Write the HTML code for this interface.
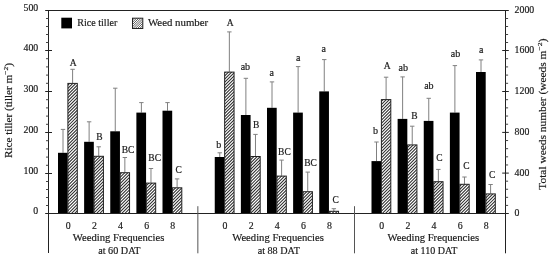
<!DOCTYPE html>
<html><head><meta charset="utf-8"><title>Chart</title>
<style>
html,body{margin:0;padding:0;background:#fff;}
svg{display:block;}
text{font-family:"Liberation Serif","DejaVu Serif",serif;fill:#1a1a1a;stroke:#1a1a1a;stroke-width:0.18px;}
</style></head>
<body>

<svg width="550" height="256" viewBox="0 0 550 256">
<rect width="550" height="256" fill="#fff"/>
<g stroke="#808080" stroke-width="1" fill="none"><path d="M63.00 152.80V129.40M60.80 129.40H65.20"/><path d="M72.60 83.10V69.30M70.40 69.30H74.80"/><path d="M89.12 141.80V121.80M86.92 121.80H91.33"/><path d="M98.72 156.00V146.80M96.53 146.80H100.92"/><path d="M115.25 131.30V88.20M113.05 88.20H117.45"/><path d="M124.85 172.40V157.50M122.65 157.50H127.05"/><path d="M141.38 112.60V102.60M139.18 102.60H143.57"/><path d="M150.97 182.80V168.50M148.78 168.50H153.18"/><path d="M167.50 110.70V102.60M165.30 102.60H169.70"/><path d="M177.10 187.50V178.90M174.90 178.90H179.30"/><path d="M219.75 157.00V152.80M217.55 152.80H221.95"/><path d="M229.35 71.80V31.90M227.15 31.90H231.55"/><path d="M245.88 115.00V78.30M243.68 78.30H248.07"/><path d="M255.47 156.20V134.40M253.28 134.40H257.68"/><path d="M272.00 107.80V81.90M269.80 81.90H274.20"/><path d="M281.60 175.80V160.10M279.40 160.10H283.80"/><path d="M298.12 112.60V66.60M295.93 66.60H300.32"/><path d="M307.73 191.40V172.10M305.52 172.10H309.93"/><path d="M324.25 91.40V59.60M322.05 59.60H326.45"/><path d="M333.85 211.00V208.70M331.65 208.70H336.05"/><path d="M376.50 161.10V142.00M374.30 142.00H378.70"/><path d="M386.10 99.30V77.20M383.90 77.20H388.30"/><path d="M402.62 118.90V76.90M400.43 76.90H404.82"/><path d="M412.23 144.60V126.20M410.02 126.20H414.43"/><path d="M428.75 120.90V98.30M426.55 98.30H430.95"/><path d="M438.35 181.40V169.40M436.15 169.40H440.55"/><path d="M454.88 112.60V65.60M452.68 65.60H457.07"/><path d="M464.48 184.00V177.00M462.27 177.00H466.68"/><path d="M481.00 72.00V59.90M478.80 59.90H483.20"/><path d="M490.60 193.60V184.50M488.40 184.50H492.80"/></g>
<g><rect x="58.00" y="152.80" width="9.70" height="60.70" fill="#000"/><rect x="84.12" y="141.80" width="9.70" height="71.70" fill="#000"/><rect x="110.25" y="131.30" width="9.70" height="82.20" fill="#000"/><rect x="136.38" y="112.60" width="9.70" height="100.90" fill="#000"/><rect x="162.50" y="110.70" width="9.70" height="102.80" fill="#000"/><rect x="214.75" y="157.00" width="9.70" height="56.50" fill="#000"/><rect x="240.88" y="115.00" width="9.70" height="98.50" fill="#000"/><rect x="267.00" y="107.80" width="9.70" height="105.70" fill="#000"/><rect x="293.12" y="112.60" width="9.70" height="100.90" fill="#000"/><rect x="319.25" y="91.40" width="9.70" height="122.10" fill="#000"/><rect x="371.50" y="161.10" width="9.70" height="52.40" fill="#000"/><rect x="397.62" y="118.90" width="9.70" height="94.60" fill="#000"/><rect x="423.75" y="120.90" width="9.70" height="92.60" fill="#000"/><rect x="449.88" y="112.60" width="9.70" height="100.90" fill="#000"/><rect x="476.00" y="72.00" width="9.70" height="141.50" fill="#000"/></g>
<clipPath id="cp"><rect x="67.90" y="83.40" width="9.40" height="130.10"/><rect x="94.03" y="156.30" width="9.40" height="57.20"/><rect x="120.15" y="172.70" width="9.40" height="40.80"/><rect x="146.28" y="183.10" width="9.40" height="30.40"/><rect x="172.40" y="187.80" width="9.40" height="25.70"/><rect x="224.65" y="72.10" width="9.40" height="141.40"/><rect x="250.78" y="156.50" width="9.40" height="57.00"/><rect x="276.90" y="176.10" width="9.40" height="37.40"/><rect x="303.02" y="191.70" width="9.40" height="21.80"/><rect x="329.15" y="211.30" width="9.40" height="2.20"/><rect x="381.40" y="99.60" width="9.40" height="113.90"/><rect x="407.52" y="144.90" width="9.40" height="68.60"/><rect x="433.65" y="181.70" width="9.40" height="31.80"/><rect x="459.77" y="184.30" width="9.40" height="29.20"/><rect x="485.90" y="193.90" width="9.40" height="19.60"/></clipPath>
<g fill="#fff"><rect x="67.90" y="83.40" width="9.40" height="130.10"/><rect x="94.03" y="156.30" width="9.40" height="57.20"/><rect x="120.15" y="172.70" width="9.40" height="40.80"/><rect x="146.28" y="183.10" width="9.40" height="30.40"/><rect x="172.40" y="187.80" width="9.40" height="25.70"/><rect x="224.65" y="72.10" width="9.40" height="141.40"/><rect x="250.78" y="156.50" width="9.40" height="57.00"/><rect x="276.90" y="176.10" width="9.40" height="37.40"/><rect x="303.02" y="191.70" width="9.40" height="21.80"/><rect x="329.15" y="211.30" width="9.40" height="2.20"/><rect x="381.40" y="99.60" width="9.40" height="113.90"/><rect x="407.52" y="144.90" width="9.40" height="68.60"/><rect x="433.65" y="181.70" width="9.40" height="31.80"/><rect x="459.77" y="184.30" width="9.40" height="29.20"/><rect x="485.90" y="193.90" width="9.40" height="19.60"/></g>
<path clip-path="url(#cp)" d="M-180.00 220L40.00 0M-176.86 220L43.14 0M-173.72 220L46.28 0M-170.58 220L49.42 0M-167.44 220L52.56 0M-164.30 220L55.70 0M-161.16 220L58.84 0M-158.02 220L61.98 0M-154.88 220L65.12 0M-151.74 220L68.26 0M-148.60 220L71.40 0M-145.46 220L74.54 0M-142.32 220L77.68 0M-139.18 220L80.82 0M-136.04 220L83.96 0M-132.90 220L87.10 0M-129.76 220L90.24 0M-126.62 220L93.38 0M-123.48 220L96.52 0M-120.34 220L99.66 0M-117.20 220L102.80 0M-114.06 220L105.94 0M-110.92 220L109.08 0M-107.78 220L112.22 0M-104.64 220L115.36 0M-101.50 220L118.50 0M-98.36 220L121.64 0M-95.22 220L124.78 0M-92.08 220L127.92 0M-88.94 220L131.06 0M-85.80 220L134.20 0M-82.66 220L137.34 0M-79.52 220L140.48 0M-76.38 220L143.62 0M-73.24 220L146.76 0M-70.10 220L149.90 0M-66.96 220L153.04 0M-63.82 220L156.18 0M-60.68 220L159.32 0M-57.54 220L162.46 0M-54.40 220L165.60 0M-51.26 220L168.74 0M-48.12 220L171.88 0M-44.98 220L175.02 0M-41.84 220L178.16 0M-38.70 220L181.30 0M-35.56 220L184.44 0M-32.42 220L187.58 0M-29.28 220L190.72 0M-26.14 220L193.86 0M-23.00 220L197.00 0M-19.86 220L200.14 0M-16.72 220L203.28 0M-13.58 220L206.42 0M-10.44 220L209.56 0M-7.30 220L212.70 0M-4.16 220L215.84 0M-1.02 220L218.98 0M2.12 220L222.12 0M5.26 220L225.26 0M8.40 220L228.40 0M11.54 220L231.54 0M14.68 220L234.68 0M17.82 220L237.82 0M20.96 220L240.96 0M24.10 220L244.10 0M27.24 220L247.24 0M30.38 220L250.38 0M33.52 220L253.52 0M36.66 220L256.66 0M39.80 220L259.80 0M42.94 220L262.94 0M46.08 220L266.08 0M49.22 220L269.22 0M52.36 220L272.36 0M55.50 220L275.50 0M58.64 220L278.64 0M61.78 220L281.78 0M64.92 220L284.92 0M68.06 220L288.06 0M71.20 220L291.20 0M74.34 220L294.34 0M77.48 220L297.48 0M80.62 220L300.62 0M83.76 220L303.76 0M86.90 220L306.90 0M90.04 220L310.04 0M93.18 220L313.18 0M96.32 220L316.32 0M99.46 220L319.46 0M102.60 220L322.60 0M105.74 220L325.74 0M108.88 220L328.88 0M112.02 220L332.02 0M115.16 220L335.16 0M118.30 220L338.30 0M121.44 220L341.44 0M124.58 220L344.58 0M127.72 220L347.72 0M130.86 220L350.86 0M134.00 220L354.00 0M137.14 220L357.14 0M140.28 220L360.28 0M143.42 220L363.42 0M146.56 220L366.56 0M149.70 220L369.70 0M152.84 220L372.84 0M155.98 220L375.98 0M159.12 220L379.12 0M162.26 220L382.26 0M165.40 220L385.40 0M168.54 220L388.54 0M171.68 220L391.68 0M174.82 220L394.82 0M177.96 220L397.96 0M181.10 220L401.10 0M184.24 220L404.24 0M187.38 220L407.38 0M190.52 220L410.52 0M193.66 220L413.66 0M196.80 220L416.80 0M199.94 220L419.94 0M203.08 220L423.08 0M206.22 220L426.22 0M209.36 220L429.36 0M212.50 220L432.50 0M215.64 220L435.64 0M218.78 220L438.78 0M221.92 220L441.92 0M225.06 220L445.06 0M228.20 220L448.20 0M231.34 220L451.34 0M234.48 220L454.48 0M237.62 220L457.62 0M240.76 220L460.76 0M243.90 220L463.90 0M247.04 220L467.04 0M250.18 220L470.18 0M253.32 220L473.32 0M256.46 220L476.46 0M259.60 220L479.60 0M262.74 220L482.74 0M265.88 220L485.88 0M269.02 220L489.02 0M272.16 220L492.16 0M275.30 220L495.30 0M278.44 220L498.44 0M281.58 220L501.58 0M284.72 220L504.72 0M287.86 220L507.86 0M291.00 220L511.00 0M294.14 220L514.14 0M297.28 220L517.28 0M300.42 220L520.42 0M303.56 220L523.56 0M306.70 220L526.70 0M309.84 220L529.84 0M312.98 220L532.98 0M316.12 220L536.12 0M319.26 220L539.26 0M322.40 220L542.40 0M325.54 220L545.54 0M328.68 220L548.68 0M331.82 220L551.82 0M334.96 220L554.96 0M338.10 220L558.10 0M341.24 220L561.24 0M344.38 220L564.38 0M347.52 220L567.52 0M350.66 220L570.66 0M353.80 220L573.80 0M356.94 220L576.94 0M360.08 220L580.08 0M363.22 220L583.22 0M366.36 220L586.36 0M369.50 220L589.50 0M372.64 220L592.64 0M375.78 220L595.78 0M378.92 220L598.92 0M382.06 220L602.06 0M385.20 220L605.20 0M388.34 220L608.34 0M391.48 220L611.48 0M394.62 220L614.62 0M397.76 220L617.76 0M400.90 220L620.90 0M404.04 220L624.04 0M407.18 220L627.18 0M410.32 220L630.32 0M413.46 220L633.46 0M416.60 220L636.60 0M419.74 220L639.74 0M422.88 220L642.88 0M426.02 220L646.02 0M429.16 220L649.16 0M432.30 220L652.30 0M435.44 220L655.44 0M438.58 220L658.58 0M441.72 220L661.72 0M444.86 220L664.86 0M448.00 220L668.00 0M451.14 220L671.14 0M454.28 220L674.28 0M457.42 220L677.42 0M460.56 220L680.56 0M463.70 220L683.70 0M466.84 220L686.84 0M469.98 220L689.98 0M473.12 220L693.12 0M476.26 220L696.26 0M479.40 220L699.40 0M482.54 220L702.54 0M485.68 220L705.68 0M488.82 220L708.82 0M491.96 220L711.96 0M495.10 220L715.10 0M498.24 220L718.24 0" stroke="#2a2a2a" stroke-width="1.03" fill="none"/>
<g fill="none" stroke="#222" stroke-width="1"><rect x="67.90" y="83.40" width="9.40" height="130.10"/><rect x="94.03" y="156.30" width="9.40" height="57.20"/><rect x="120.15" y="172.70" width="9.40" height="40.80"/><rect x="146.28" y="183.10" width="9.40" height="30.40"/><rect x="172.40" y="187.80" width="9.40" height="25.70"/><rect x="224.65" y="72.10" width="9.40" height="141.40"/><rect x="250.78" y="156.50" width="9.40" height="57.00"/><rect x="276.90" y="176.10" width="9.40" height="37.40"/><rect x="303.02" y="191.70" width="9.40" height="21.80"/><rect x="329.15" y="211.30" width="9.40" height="2.20"/><rect x="381.40" y="99.60" width="9.40" height="113.90"/><rect x="407.52" y="144.90" width="9.40" height="68.60"/><rect x="433.65" y="181.70" width="9.40" height="31.80"/><rect x="459.77" y="184.30" width="9.40" height="29.20"/><rect x="485.90" y="193.90" width="9.40" height="19.60"/></g>
<path d="M45.20 10.50H508.80M45.20 213.50H508.80M48.50 10.00V253.00M505.50 10.00V253.30M45.20 173.50H52.00M502.20 173.10H508.80M45.20 132.50H52.00M502.20 132.40H508.80M45.20 91.50H52.00M502.20 91.50H508.80M45.20 50.50H52.00M502.20 50.50H508.80" stroke="#222" stroke-width="1" fill="none"/>
<path d="M46.00 205.50H48.50M505.50 205.42H508.10M46.00 197.50H48.50M505.50 197.34H508.10M46.00 189.50H48.50M505.50 189.26H508.10M46.00 181.50H48.50M505.50 181.18H508.10M46.00 165.30H48.50M505.50 164.96H508.10M46.00 157.10H48.50M505.50 156.82H508.10M46.00 148.90H48.50M505.50 148.68H508.10M46.00 140.70H48.50M505.50 140.54H508.10M46.00 124.30H48.50M505.50 124.22H508.10M46.00 116.10H48.50M505.50 116.04H508.10M46.00 107.90H48.50M505.50 107.86H508.10M46.00 99.70H48.50M505.50 99.68H508.10M46.00 83.30H48.50M505.50 83.30H508.10M46.00 75.10H48.50M505.50 75.10H508.10M46.00 66.90H48.50M505.50 66.90H508.10M46.00 58.70H48.50M505.50 58.70H508.10M46.00 42.50H48.50M505.50 42.50H508.10M46.00 34.50H48.50M505.50 34.50H508.10M46.00 26.50H48.50M505.50 26.50H508.10M46.00 18.50H48.50M505.50 18.50H508.10" stroke="#444" stroke-width="1" fill="none"/>
<path d="M197.85 206.2V253.3M354.5 206.2V253.3" stroke="#555" stroke-width="1" fill="none"/>
<rect x="61.3" y="17.7" width="10.7" height="10.7" fill="#000"/>
<clipPath id="cl"><rect x="132.5" y="18.2" width="10.3" height="10.3"/></clipPath>
<path clip-path="url(#cl)" d="M90.00 40L120.00 10M92.25 40L122.25 10M94.50 40L124.50 10M96.75 40L126.75 10M99.00 40L129.00 10M101.25 40L131.25 10M103.50 40L133.50 10M105.75 40L135.75 10M108.00 40L138.00 10M110.25 40L140.25 10M112.50 40L142.50 10M114.75 40L144.75 10M117.00 40L147.00 10M119.25 40L149.25 10M121.50 40L151.50 10M123.75 40L153.75 10M126.00 40L156.00 10M128.25 40L158.25 10M130.50 40L160.50 10M132.75 40L162.75 10M135.00 40L165.00 10M137.25 40L167.25 10M139.50 40L169.50 10M141.75 40L171.75 10M144.00 40L174.00 10M146.25 40L176.25 10M148.50 40L178.50 10" stroke="#333" stroke-width="0.8" fill="none"/>
<rect x="132.5" y="18.2" width="10.3" height="10.3" fill="none" stroke="#222" stroke-width="1"/>
<text x="77.30" y="25.60" font-size="10" textLength="40.0" lengthAdjust="spacingAndGlyphs">Rice tiller</text>
<text x="148.00" y="25.60" font-size="10" textLength="60.2" lengthAdjust="spacingAndGlyphs">Weed number</text>
<text x="38.20" y="213.90" font-size="9.8" text-anchor="end">0</text>
<text x="38.20" y="173.90" font-size="9.8" text-anchor="end">100</text>
<text x="38.20" y="132.90" font-size="9.8" text-anchor="end">200</text>
<text x="38.20" y="91.90" font-size="9.8" text-anchor="end">300</text>
<text x="38.20" y="50.90" font-size="9.8" text-anchor="end">400</text>
<text x="38.20" y="10.90" font-size="9.8" text-anchor="end">500</text>
<text x="514.60" y="215.90" font-size="9.8">0</text>
<text x="514.60" y="175.50" font-size="9.8">400</text>
<text x="514.60" y="134.80" font-size="9.8">800</text>
<text x="514.60" y="93.90" font-size="9.8">1200</text>
<text x="514.60" y="52.90" font-size="9.8">1600</text>
<text x="514.60" y="12.90" font-size="9.8">2000</text>
<text x="68.30" y="229.20" font-size="9.8" text-anchor="middle">0</text>
<text x="94.42" y="229.20" font-size="9.8" text-anchor="middle">2</text>
<text x="120.55" y="229.20" font-size="9.8" text-anchor="middle">4</text>
<text x="146.68" y="229.20" font-size="9.8" text-anchor="middle">6</text>
<text x="172.80" y="229.20" font-size="9.8" text-anchor="middle">8</text>
<text x="225.05" y="229.20" font-size="9.8" text-anchor="middle">0</text>
<text x="251.18" y="229.20" font-size="9.8" text-anchor="middle">2</text>
<text x="277.30" y="229.20" font-size="9.8" text-anchor="middle">4</text>
<text x="303.43" y="229.20" font-size="9.8" text-anchor="middle">6</text>
<text x="329.55" y="229.20" font-size="9.8" text-anchor="middle">8</text>
<text x="381.80" y="229.20" font-size="9.8" text-anchor="middle">0</text>
<text x="407.93" y="229.20" font-size="9.8" text-anchor="middle">2</text>
<text x="434.05" y="229.20" font-size="9.8" text-anchor="middle">4</text>
<text x="460.18" y="229.20" font-size="9.8" text-anchor="middle">6</text>
<text x="486.30" y="229.20" font-size="9.8" text-anchor="middle">8</text>
<text x="118.60" y="241.40" font-size="10" text-anchor="middle" textLength="91.6" lengthAdjust="spacingAndGlyphs">Weeding Frequencies</text>
<text x="119.40" y="253.50" font-size="10" text-anchor="middle" textLength="42.3" lengthAdjust="spacingAndGlyphs">at 60 DAT</text>
<text x="278.00" y="241.40" font-size="10" text-anchor="middle" textLength="91.6" lengthAdjust="spacingAndGlyphs">Weeding Frequencies</text>
<text x="278.80" y="253.50" font-size="10" text-anchor="middle" textLength="42.3" lengthAdjust="spacingAndGlyphs">at 88 DAT</text>
<text x="433.30" y="241.40" font-size="10" text-anchor="middle" textLength="91.6" lengthAdjust="spacingAndGlyphs">Weeding Frequencies</text>
<text x="434.10" y="253.50" font-size="10" text-anchor="middle" textLength="46.5" lengthAdjust="spacingAndGlyphs">at 110 DAT</text>
<text transform="translate(12.3 110.5) rotate(-90)" font-size="10" text-anchor="middle" textLength="95" lengthAdjust="spacingAndGlyphs">Rice tiller (tiller m<tspan font-size="6.8" dy="-4">−2</tspan><tspan dy="4">)</tspan></text>
<text transform="translate(545.8 114.1) rotate(-90)" font-size="10" text-anchor="middle" textLength="151.2" lengthAdjust="spacingAndGlyphs">Total weeds number (weeds m<tspan font-size="6.8" dy="-4">−2</tspan><tspan dy="4">)</tspan></text>
<text x="73.20" y="65.50" font-size="9.5" text-anchor="middle">A</text>
<text x="99.30" y="139.50" font-size="9.5" text-anchor="middle">B</text>
<text x="128.00" y="153.10" font-size="9.5" text-anchor="middle">BC</text>
<text x="154.70" y="160.90" font-size="9.5" text-anchor="middle">BC</text>
<text x="178.60" y="172.70" font-size="9.5" text-anchor="middle">C</text>
<text x="218.80" y="147.70" font-size="10" text-anchor="middle">b</text>
<text x="230.20" y="25.60" font-size="9.5" text-anchor="middle">A</text>
<text x="245.40" y="69.60" font-size="10" text-anchor="middle">ab</text>
<text x="256.10" y="127.60" font-size="9.5" text-anchor="middle">B</text>
<text x="271.80" y="75.80" font-size="10" text-anchor="middle">a</text>
<text x="284.40" y="155.20" font-size="9.5" text-anchor="middle">BC</text>
<text x="298.20" y="61.00" font-size="10" text-anchor="middle">a</text>
<text x="310.50" y="165.60" font-size="9.5" text-anchor="middle">BC</text>
<text x="323.80" y="52.20" font-size="10" text-anchor="middle">a</text>
<text x="335.60" y="202.80" font-size="9.5" text-anchor="middle">C</text>
<text x="375.60" y="133.90" font-size="10" text-anchor="middle">b</text>
<text x="387.20" y="69.10" font-size="9.5" text-anchor="middle">A</text>
<text x="403.30" y="70.60" font-size="10" text-anchor="middle">ab</text>
<text x="414.40" y="118.90" font-size="9.5" text-anchor="middle">B</text>
<text x="428.90" y="89.00" font-size="10" text-anchor="middle">ab</text>
<text x="439.40" y="161.40" font-size="9.5" text-anchor="middle">C</text>
<text x="455.60" y="56.80" font-size="10" text-anchor="middle">ab</text>
<text x="466.50" y="168.90" font-size="9.5" text-anchor="middle">C</text>
<text x="481.20" y="52.50" font-size="10" text-anchor="middle">a</text>
<text x="492.10" y="178.00" font-size="9.5" text-anchor="middle">C</text>
</svg>
</body></html>
